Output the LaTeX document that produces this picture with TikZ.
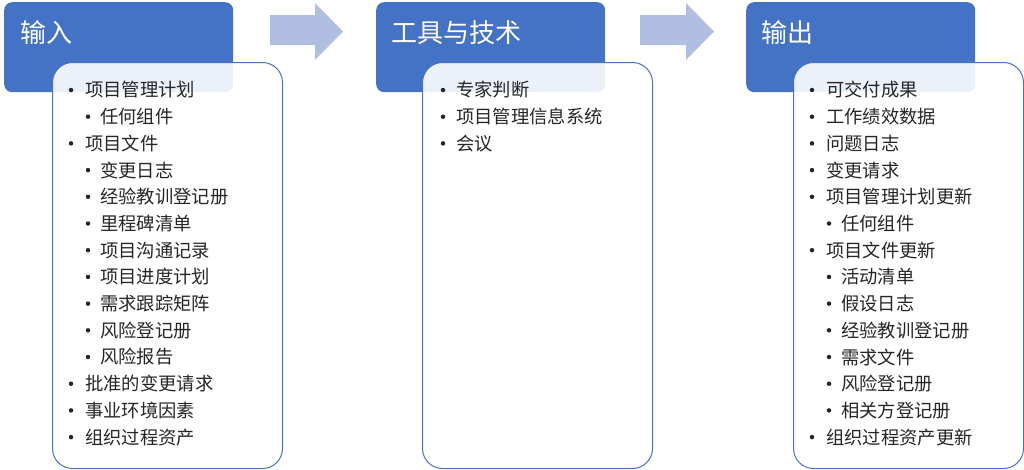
\documentclass[tikz,border=0pt]{standalone}
\usepackage{fontspec}
\setmainfont{Noto Sans CJK SC}

\definecolor{hdrblue}{RGB}{68,114,196}
\definecolor{arrowblue}{RGB}{176,190,225}

\tikzset{
  header/.style={fill=hdrblue, rounded corners=8pt, minimum width=229pt, minimum height=90pt, anchor=north west, inner sep=0pt},
  title/.style={anchor=west, inner sep=0pt, text=white, font=\fontsize{26}{26}\selectfont},
  listbox/.style={draw=hdrblue, line width=1pt, fill=white, fill opacity=0.9, rounded corners=20pt, minimum width=230pt, minimum height=406pt, anchor=north west, inner sep=0pt},
  item/.style={anchor=west, inner sep=0pt, text=black!85, font=\fontsize{18.3}{18.3}\selectfont},
  dot/.style={circle, fill=black!85, inner sep=0pt, minimum size=4.5pt},
}

\begin{document}
\begin{tikzpicture}[x=1pt, y=-1pt]
    \useasboundingbox (0,0) rectangle (1024,469);

    % headers
    \node[header] (inhdr) at (4,2) {};
    \node[header] (toolhdr) at (376,2) {};
    \node[header] (outhdr) at (746,2) {};

    \node[title] (intitle) at (20,33) {输入};
    \node[title] (tooltitle) at (391,33) {工具与技术};
    \node[title] (outtitle) at (761,33) {输出};

    % arrows
    \fill[arrowblue] (270,15) -- (315,15) -- (315,3) -- (343,31.5) -- (315,60) -- (315,45) -- (270,45) -- cycle;
    \fill[arrowblue] (640,15) -- (686,15) -- (686,3) -- (714,31.5) -- (686,60) -- (686,45) -- (640,45) -- cycle;

    % list boxes
    \node[listbox] (inbox) at (52,62) {};
    \node[listbox] (toolbox) at (422,62) {};
    \node[listbox] (outbox) at (793,62) {};

    % inputs
    \foreach \txt/\lvl [count=\i from 0] in {项目管理计划/1, 任何组件/2, 项目文件/1, 变更日志/2,
        经验教训登记册/2, 里程碑清单/2, 项目沟通记录/2, 项目进度计划/2, 需求跟踪矩阵/2,
        风险登记册/2, 风险报告/2, 批准的变更请求/1, 事业环境因素/1, 组织过程资产/1} {
        \node[dot] (indot-\i) at ({52+2+17*\lvl}, {90+26.7*\i}) {};
        \node[item] (in-\i) at ({52+18+15*\lvl}, {90+26.7*\i}) {\txt};
    }

    % tools and techniques
    \foreach \txt [count=\i from 0] in {专家判断, 项目管理信息系统, 会议} {
        \node[dot] (tooldot-\i) at ({422+21}, {90+26.7*\i}) {};
        \node[item] (tool-\i) at ({422+34}, {90+26.7*\i}) {\txt};
    }

    % outputs
    \foreach \txt/\lvl [count=\i from 0] in {可交付成果/1, 工作绩效数据/1, 问题日志/1, 变更请求/1,
        项目管理计划更新/1, 任何组件/2, 项目文件更新/1, 活动清单/2, 假设日志/2,
        经验教训登记册/2, 需求文件/2, 风险登记册/2, 相关方登记册/2, 组织过程资产更新/1} {
        \node[dot] (outdot-\i) at ({793+2+17*\lvl}, {90+26.7*\i}) {};
        \node[item] (out-\i) at ({793+18+15*\lvl}, {90+26.7*\i}) {\txt};
    }
\end{tikzpicture}
\end{document}
